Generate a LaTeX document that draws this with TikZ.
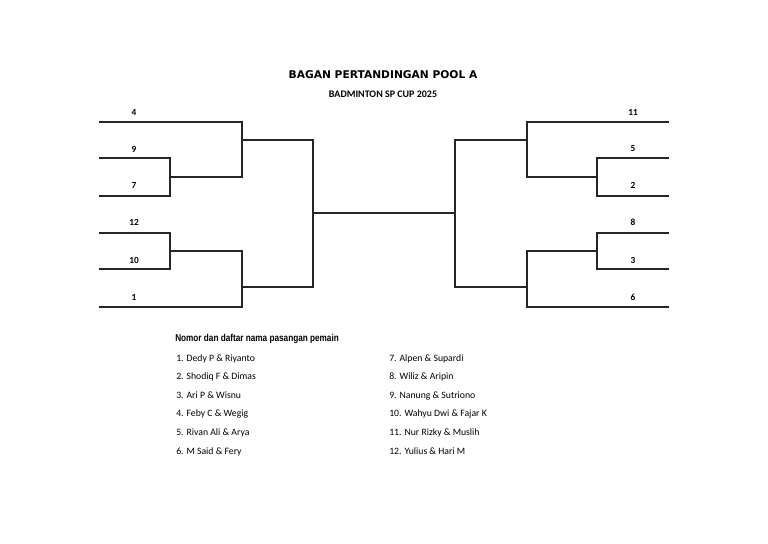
\documentclass[tikz,border=0pt]{standalone}
\usepackage{fontspec}
\setmainfont{Carlito}
\newfontfamily\titlefont{DejaVu Sans}
\newfontfamily\headfont[FakeStretch=0.82]{Liberation Sans}
\begin{document}
\begin{tikzpicture}[x=0.75pt,y=-0.75pt,
  line/.style={draw=black!85,line width=0.8pt},
  num/.style={font=\fontsize{7}{8}\selectfont\bfseries,inner sep=0pt},
  item/.style={font=\fontsize{7.3}{8}\selectfont,inner sep=0pt,anchor=base west}]
\useasboundingbox[fill=white] (0,0) rectangle (768,543);
% titles
\node[font=\titlefont\fontsize{8}{9}\selectfont\bfseries,inner sep=0pt] (title) at (383,74.5) {BAGAN PERTANDINGAN POOL A};
\node[font=\fontsize{7.5}{9}\selectfont\bfseries,inner sep=0pt] (sub) at (383,94) {BADMINTON SP CUP 2025};
% left bracket
\coordinate (L4a) at (99,122); \coordinate (L4b) at (242,122);
\coordinate (L9a) at (99,158); \coordinate (L9b) at (170,158);
\coordinate (L7a) at (99,196); \coordinate (L7b) at (170,196);
\coordinate (L97) at (170,177); \coordinate (LQ1) at (242,177);
\coordinate (LS1) at (242,140); \coordinate (LS1e) at (313,140);
\coordinate (L12a) at (99,233); \coordinate (L12b) at (170,233);
\coordinate (L10a) at (99,269); \coordinate (L10b) at (170,269);
\coordinate (L1210) at (170,251); \coordinate (LQ2) at (242,251);
\coordinate (L1a) at (99,307); \coordinate (L1b) at (242,307);
\coordinate (LS2) at (242,287); \coordinate (LS2e) at (313,287);
\coordinate (LF) at (313,213);
% right bracket
\coordinate (R11a) at (669,122); \coordinate (R11b) at (527,122);
\coordinate (R5a) at (669,158); \coordinate (R5b) at (597,158);
\coordinate (R2a) at (669,196); \coordinate (R2b) at (597,196);
\coordinate (R52) at (597,177); \coordinate (RQ1) at (527,177);
\coordinate (RS1) at (527,140); \coordinate (RS1e) at (455,140);
\coordinate (R8a) at (669,233); \coordinate (R8b) at (597,233);
\coordinate (R3a) at (669,269); \coordinate (R3b) at (597,269);
\coordinate (R83) at (597,251); \coordinate (RQ2) at (527,251);
\coordinate (R6a) at (669,307); \coordinate (R6b) at (527,307);
\coordinate (RS2) at (527,287); \coordinate (RS2e) at (455,287);
\coordinate (RF) at (455,213);
\draw[line] (L4a) -- (L4b) -- (LQ1) -- (L97);
\draw[line] (L9a) -- (L9b) -- (L7b) -- (L7a);
\draw[line] (LS1) -- (LS1e) -- (LS2e) -- (LS2);
\draw[line] (L12a) -- (L12b) -- (L10b) -- (L10a);
\draw[line] (L1210) -- (LQ2) -- (L1b) -- (L1a);
\draw[line] (R11a) -- (R11b) -- (RQ1) -- (R52);
\draw[line] (R5a) -- (R5b) -- (R2b) -- (R2a);
\draw[line] (RS1) -- (RS1e) -- (RS2e) -- (RS2);
\draw[line] (R8a) -- (R8b) -- (R3b) -- (R3a);
\draw[line] (R83) -- (RQ2) -- (R6b) -- (R6a);
\draw[line] (LF) -- (RF);
% numbers
\node[num] (n4) at (134,112) {4};
\node[num] (n9) at (134,149) {9};
\node[num] (n7) at (134,185) {7};
\node[num] (n12) at (134,222) {12};
\node[num] (n10) at (134,260) {10};
\node[num] (n1) at (134,297) {1};
\node[num] (n11) at (633,112) {11};
\node[num] (n5) at (633,149) {5};
\node[num] (n2) at (633,185) {2};
\node[num] (n8) at (633,222) {8};
\node[num] (n3) at (633,260) {3};
\node[num] (n6) at (633,297) {6};
% list
\node[font=\headfont\fontsize{7.5}{9}\selectfont\bfseries,inner sep=0pt,anchor=west] (head) at (175,339) {Nomor dan daftar nama pasangan pemain};
\node[item] (i1) at (176,361) {1. Dedy P \& Riyanto};
\node[item] (i2) at (176,379.6) {2. Shodiq F \& Dimas};
\node[item] (i3) at (176,398.2) {3. Ari P \& Wisnu};
\node[item] (i4) at (176,416.8) {4. Feby C \& Wegig};
\node[item] (i5) at (176,435.4) {5. Rivan Ali \& Arya};
\node[item] (i6) at (176,454) {6. M Said \& Fery};
\node[item] (i7) at (389,361) {7. Alpen \& Supardi};
\node[item] (i8) at (389,379.6) {8. Wiliz \& Aripin};
\node[item] (i9) at (389,398.2) {9. Nanung \& Sutriono};
\node[item] (i10) at (389,416.8) {10. Wahyu Dwi \& Fajar K};
\node[item] (i11) at (389,435.4) {11. Nur Rizky \& Muslih};
\node[item] (i12) at (389,454) {12. Yulius \& Hari M};
\end{tikzpicture}
\end{document}
